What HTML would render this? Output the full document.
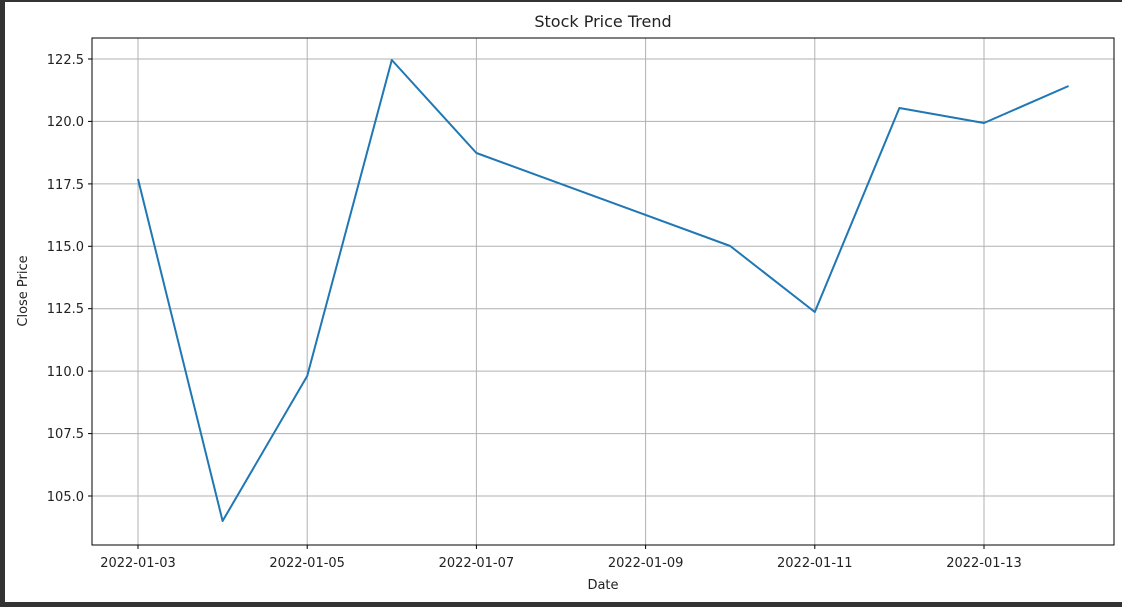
<!DOCTYPE html>
<html><head><style>
html,body{margin:0;padding:0;background:#333;}
svg{display:block;}
text{font-family:"DejaVu Sans","Liberation Sans",sans-serif;fill:#222;}
</style></head><body>
<svg width="1122" height="607" xmlns="http://www.w3.org/2000/svg">
<rect x="0" y="0" width="1122" height="607" fill="#333"/>
<rect x="5" y="2" width="1117" height="600" fill="#fff"/>
<g stroke="#b0b0b0" stroke-width="1">
<line x1="138" y1="38" x2="138" y2="545"/>
<line x1="307.2" y1="38" x2="307.2" y2="545"/>
<line x1="476.4" y1="38" x2="476.4" y2="545"/>
<line x1="645.6" y1="38" x2="645.6" y2="545"/>
<line x1="814.8" y1="38" x2="814.8" y2="545"/>
<line x1="984" y1="38" x2="984" y2="545"/>
<line x1="92" y1="59" x2="1114" y2="59"/>
<line x1="92" y1="121.4" x2="1114" y2="121.4"/>
<line x1="92" y1="183.9" x2="1114" y2="183.9"/>
<line x1="92" y1="246.3" x2="1114" y2="246.3"/>
<line x1="92" y1="308.7" x2="1114" y2="308.7"/>
<line x1="92" y1="371.1" x2="1114" y2="371.1"/>
<line x1="92" y1="433.6" x2="1114" y2="433.6"/>
<line x1="92" y1="496" x2="1114" y2="496"/>
</g>
<polyline fill="none" stroke="#1f77b4" stroke-width="2" stroke-linejoin="round" points="138,179 222.6,521 307.2,376 391.8,60 476.4,153 730.2,246 814.8,312 899.4,108 984,123 1068.6,86"/>
<rect x="92" y="38" width="1022" height="507" fill="none" stroke="#000" stroke-width="1"/>
<g stroke="#000" stroke-width="1">
<line x1="88" y1="59" x2="92" y2="59"/><line x1="88" y1="121.4" x2="92" y2="121.4"/>
<line x1="88" y1="183.9" x2="92" y2="183.9"/><line x1="88" y1="246.3" x2="92" y2="246.3"/>
<line x1="88" y1="308.7" x2="92" y2="308.7"/><line x1="88" y1="371.1" x2="92" y2="371.1"/>
<line x1="88" y1="433.6" x2="92" y2="433.6"/><line x1="88" y1="496" x2="92" y2="496"/>
<line x1="138" y1="545" x2="138" y2="549"/><line x1="307.2" y1="545" x2="307.2" y2="549"/>
<line x1="476.4" y1="545" x2="476.4" y2="549"/><line x1="645.6" y1="545" x2="645.6" y2="549"/>
<line x1="814.8" y1="545" x2="814.8" y2="549"/><line x1="984" y1="545" x2="984" y2="549"/>
</g>
<g font-size="13" text-anchor="end">
<text x="84" y="64">122.5</text><text x="84" y="126">120.0</text>
<text x="84" y="189">117.5</text><text x="84" y="251">115.0</text>
<text x="84" y="313">112.5</text><text x="84" y="376">110.0</text>
<text x="84" y="438">107.5</text><text x="84" y="501">105.0</text>
</g>
<g font-size="13" text-anchor="middle">
<text x="138" y="567">2022-01-03</text><text x="307.2" y="567">2022-01-05</text>
<text x="476.4" y="567">2022-01-07</text><text x="645.6" y="567">2022-01-09</text>
<text x="814.8" y="567">2022-01-11</text><text x="984" y="567">2022-01-13</text>
<text x="603" y="589">Date</text>
<text x="603" y="27" font-size="16">Stock Price Trend</text>
<text transform="translate(27,291) rotate(-90)">Close Price</text>
</g>
</svg>
</body></html>
